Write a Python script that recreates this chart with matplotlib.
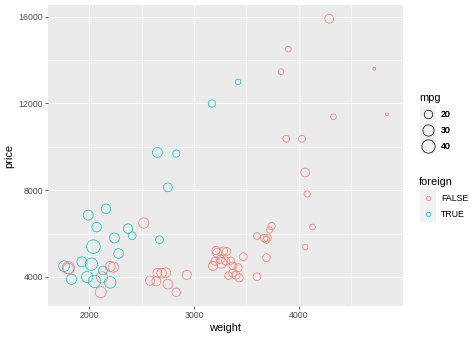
import matplotlib
matplotlib.use("Agg")
import matplotlib.pyplot as plt
import numpy as np
from matplotlib.lines import Line2D
from matplotlib.patches import Rectangle
from matplotlib.legend_handler import HandlerLine2D

plt.rcParams['font.family'] = ['Liberation Sans', 'DejaVu Sans']

# --- auto data: weight, price, mpg, foreign ---
weight_dom = [2930, 3350, 2640, 3250, 4080, 3670, 2230, 3280, 3880, 3400,
              4330, 3900, 4290, 2110, 3690, 3180, 3220, 2750, 3430, 2120,
              3600, 3600, 3740, 1800, 2650, 4840, 4720, 3830, 2580, 4060,
              3720, 3370, 4130, 2830, 4060, 3310, 3300, 3690, 3370, 2730,
              4030, 3260, 1800, 2200, 2520, 3330, 3700, 3470, 3210, 3200,
              3420, 2690]
price_dom = [4099, 4749, 3799, 4816, 7827, 5788, 4453, 5189, 10372, 4082,
             11385, 14500, 15906, 3299, 5705, 4504, 5104, 3667, 3955, 3984,
             4010, 5886, 6342, 4389, 4187, 11497, 13594, 13466, 3829, 5379,
             6165, 4516, 6303, 3291, 8814, 5172, 4733, 4890, 4181, 4195,
             10371, 4647, 4425, 4482, 6486, 4060, 5798, 4934, 5222, 4723,
             4424, 4172]
mpg_dom = [22, 17, 22, 20, 15, 18, 26, 20, 16, 19,
           14, 14, 21, 29, 16, 22, 22, 24, 19, 30,
           18, 16, 17, 28, 21, 12, 12, 14, 22, 14,
           15, 18, 14, 20, 21, 19, 19, 18, 19, 24,
           16, 28, 34, 25, 26, 18, 18, 18, 19, 19,
           19, 24]

weight_for = [2830, 2070, 2650, 2370, 2020, 2280, 2750, 2130, 2240, 1760,
              1980, 3420, 1830, 2050, 2410, 2200, 2670, 2160, 2040, 1930,
              1990, 3170]
price_for = [9690, 6295, 9735, 6229, 4589, 5079, 8129, 4296, 5799, 4499,
             3995, 12990, 3895, 3798, 5899, 3748, 5719, 7140, 5397, 4697,
             6850, 11995]
mpg_for = [17, 23, 25, 23, 35, 24, 21, 21, 25, 28,
           30, 14, 26, 35, 18, 31, 18, 23, 41, 25,
           25, 17]

size_breaks = [20, 30, 40]
foreign_labels = ['FALSE', 'TRUE']
colors = ['#F8766D', '#00BFC4']

# --- size scale (area palette, range 1..6) ---
mpg_all = np.array(mpg_dom + mpg_for)
MPG_MIN, MPG_MAX = mpg_all.min(), mpg_all.max()
PT = 72.27 / 25.4


def diam(mpg):
    size = 1 + 5 * np.sqrt((np.asarray(mpg, float) - MPG_MIN) / (MPG_MAX - MPG_MIN))
    return 0.75 * (size * PT + 0.945)


class KeyHandler(HandlerLine2D):
    # grey key background behind the legend glyph
    def create_artists(self, legend, orig_handle, xdescent, ydescent,
                       width, height, fontsize, trans):
        bg = Rectangle((-xdescent, -ydescent), width, height,
                       facecolor='#F2F2F2', edgecolor='none', transform=trans)
        mk = Line2D([width / 2 - xdescent], [height / 2 - ydescent],
                    marker='o', linestyle='none',
                    markersize=orig_handle.get_markersize(),
                    markerfacecolor='none',
                    markeredgecolor=orig_handle.get_markeredgecolor(),
                    markeredgewidth=0.7, transform=trans)
        return [bg, mk]


W, H = 474, 338
fig = plt.figure(figsize=(W / 72, H / 72), dpi=72)
ax = fig.add_axes([48 / W, 1 - 306 / H, (403 - 48) / W, (306 - 5) / H])
ax.set_facecolor('#EBEBEB')

for wt, pr, mp, col in [(weight_dom, price_dom, mpg_dom, colors[0]),
                        (weight_for, price_for, mpg_for, colors[1])]:
    ax.scatter(wt, pr, s=diam(mp) ** 2, facecolors='none', edgecolors=col,
               linewidths=0.7, zorder=3)

# limits with 5% expansion
wall = np.array(weight_dom + weight_for)
pall = np.array(price_dom + price_for)
xr = wall.max() - wall.min()
yr = pall.max() - pall.min()
ax.set_xlim(wall.min() - 0.05 * xr, wall.max() + 0.05 * xr)
ax.set_ylim(pall.min() - 0.05 * yr, pall.max() + 0.05 * yr)

ax.set_xticks([2000, 3000, 4000])
ax.set_yticks([4000, 8000, 12000, 16000])
ax.set_xticks([2500, 3500, 4500], minor=True)
ax.set_yticks([6000, 10000, 14000], minor=True)
ax.grid(which='major', color='white', linewidth=1.07)
ax.grid(which='minor', color='white', linewidth=0.53)
ax.set_axisbelow(True)
for sp in ax.spines.values():
    sp.set_visible(False)
ax.tick_params(which='major', length=2.75, width=0.8, color='#333333',
               labelsize=8.8, labelcolor='#4D4D4D', pad=2.2)
ax.tick_params(which='minor', length=0)

ax.set_xlabel('weight', fontsize=11, labelpad=3)
ax.set_ylabel('price', fontsize=11, labelpad=4)

# legends
size_handles = [Line2D([], [], marker='o', linestyle='none',
                       markersize=float(diam(b)), markeredgecolor='black')
                for b in size_breaks]
color_handles = [Line2D([], [], marker='o', linestyle='none',
                        markersize=4.5, markeredgecolor=c) for c in colors]

KEY = 16.0
FS = 8.8
# legend box height = fs*hh - 0.35*fs*(hh - 0.7), solve for a KEY-high box
hh = (KEY / FS - 0.245) / 0.65
common = dict(frameon=False, fontsize=FS, handlelength=KEY / FS,
              handleheight=hh, labelspacing=0.0,
              handletextpad=0.55, borderpad=0, borderaxespad=0,
              loc='upper left', handler_map={Line2D: KeyHandler()})

fig.text(419 / W, 1 - 98 / H, 'mpg', fontsize=11, va='center', ha='left')
leg1 = fig.legend(handles=size_handles, labels=[str(b) for b in size_breaks],
                  bbox_to_anchor=(420 / W, 1 - 106 / H), **common)
fig.text(419 / W, 1 - 182 / H, 'foreign', fontsize=11, va='center', ha='left')
leg2 = fig.legend(handles=color_handles, labels=foreign_labels,
                  bbox_to_anchor=(420 / W, 1 - 190 / H), **common)
fig.add_artist(leg1)

fig.savefig('out.png', dpi=72, facecolor='white')
